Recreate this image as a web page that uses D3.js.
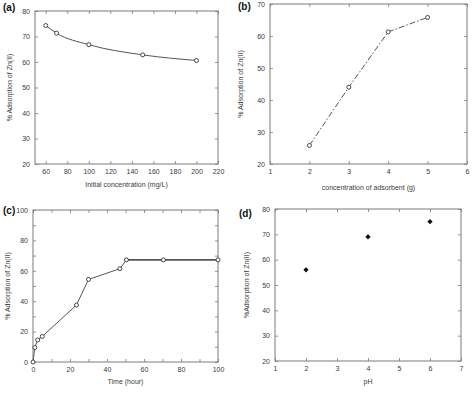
<!DOCTYPE html>
<html>
<head>
<meta charset="utf-8">
<script src="https://cdn.jsdelivr.net/npm/d3@7"></script>
<style>
  body { margin: 0; background: #fff; }
  svg { display: block; font-family: "Liberation Sans", Arial, sans-serif; }
</style>
</head>
<body>
<div id="chart"></div>
<script>
// --- Data ---
// (a) initial concentration
const concA = [60, 70, 100, 150, 200];
const adsA = [74.3, 71.3, 66.8, 62.8, 60.6];
// (b) adsorbent dose
const doseB = [2, 3, 4, 5];
const adsB = [25.8, 44, 61.3, 65.8];
// (c) contact time
const timeC = [0, 1, 2.5, 5, 23.5, 30, 47, 50.5, 70.5, 100];
const adsC = [0, 9.5, 14.5, 16.8, 37.5, 54.3, 61.4, 67.2, 67.2, 67.2];
// (d) pH
const phD = [2, 4, 6];
const adsD = [56, 69, 75];

const W = 474, H = 399;
const svg = d3.select("#chart").append("svg").attr("width", W).attr("height", H);

const frameColor = "#7a7a7a";
const textColor = "#3a3a3a";
const lineColor = "#555";

// --- Generic panel builder ---
function panel(cfg) {
  const x = d3.scaleLinear().domain(cfg.xDomain).range([cfg.left, cfg.right]);
  const y = d3.scaleLinear().domain(cfg.yDomain).range([cfg.bottom, cfg.top]);
  const g = svg.append("g");
  const fmt = d3.format("d");

  // inward ticks on all four sides
  const axes = [
    { ax: d3.axisBottom(x).tickValues(cfg.xTicks), t: `translate(0,${cfg.bottom})`, labels: true },
    { ax: d3.axisTop(x).tickValues(cfg.xTicks), t: `translate(0,${cfg.top})`, labels: false },
    { ax: d3.axisLeft(y).tickValues(cfg.yTicks), t: `translate(${cfg.left},0)`, labels: true },
    { ax: d3.axisRight(y).tickValues(cfg.yTicks), t: `translate(${cfg.right},0)`, labels: false }
  ];
  if (cfg.xMinor) {
    axes.push({ ax: d3.axisBottom(x).tickValues(cfg.xMinor), t: `translate(0,${cfg.bottom})`, labels: false });
    axes.push({ ax: d3.axisTop(x).tickValues(cfg.xMinor), t: `translate(0,${cfg.top})`, labels: false });
  }
  if (cfg.yMinor) {
    axes.push({ ax: d3.axisLeft(y).tickValues(cfg.yMinor), t: `translate(${cfg.left},0)`, labels: false });
    axes.push({ ax: d3.axisRight(y).tickValues(cfg.yMinor), t: `translate(${cfg.right},0)`, labels: false });
  }
  axes.forEach(a => {
    const ag = g.append("g").attr("transform", a.t)
      .call(a.ax.tickSizeInner(-3).tickSizeOuter(0).tickPadding(5).tickFormat(fmt));
    ag.select(".domain").remove();
    ag.selectAll(".tick line").attr("stroke", frameColor).attr("stroke-width", 0.8);
    if (a.labels) {
      ag.selectAll("text").attr("fill", textColor).attr("font-size", "7px")
        .style("font-family", "Liberation Sans, Arial, sans-serif");
    } else {
      ag.selectAll("text").remove();
    }
  });

  // frame
  g.append("rect")
    .attr("x", cfg.left).attr("y", cfg.top)
    .attr("width", cfg.right - cfg.left).attr("height", cfg.bottom - cfg.top)
    .attr("fill", "none").attr("stroke", frameColor).attr("stroke-width", 1);

  // axis titles
  g.append("text")
    .attr("x", (cfg.left + cfg.right) / 2).attr("y", cfg.xTitleY)
    .attr("text-anchor", "middle").attr("font-size", "7px").attr("fill", textColor)
    .text(cfg.xTitle);
  g.append("text")
    .attr("transform", `translate(${cfg.yTitleX},${(cfg.top + cfg.bottom) / 2}) rotate(-90)`)
    .attr("text-anchor", "middle").attr("font-size", "7px").attr("fill", textColor)
    .text(cfg.yTitle);

  // panel letter
  g.append("text")
    .attr("x", cfg.tagX).attr("y", cfg.tagY)
    .attr("font-size", "10px").attr("font-weight", "bold").attr("fill", "#111")
    .text(cfg.tag);

  return { g, x, y };
}

// --- (a) ---
const pa = panel({
  left: 35, right: 218, top: 11, bottom: 164,
  xDomain: [50, 220], yDomain: [20, 80],
  xTicks: d3.range(60, 221, 20), yTicks: d3.range(20, 81, 10),
  xTitle: "Initial concentration (mg/L)", xTitleY: 187,
  yTitle: "% Adsorption of Zn(II)", yTitleX: 12,
  tag: "(a)", tagX: 3, tagY: 11
});
const ptsA = concA.map((c, i) => [c, adsA[i]]);
pa.g.append("path")
  .datum(ptsA)
  .attr("d", d3.line().x(d => pa.x(d[0])).y(d => pa.y(d[1])).curve(d3.curveMonotoneX))
  .attr("fill", "none").attr("stroke", lineColor).attr("stroke-width", 1);
pa.g.selectAll("circle").data(ptsA).join("circle")
  .attr("cx", d => pa.x(d[0])).attr("cy", d => pa.y(d[1])).attr("r", 2)
  .attr("fill", "#fff").attr("stroke", "#333").attr("stroke-width", 0.9);

// --- (b) ---
const pb = panel({
  left: 270, right: 467, top: 4, bottom: 164,
  xDomain: [1, 6], yDomain: [20, 70],
  xTicks: d3.range(1, 7), yTicks: d3.range(20, 71, 10),
  xTitle: "concentration of adsorbent (g)", xTitleY: 190,
  yTitle: "% Adsorption of Zn(II)", yTitleX: 243,
  tag: "(b)", tagX: 238, tagY: 10
});
const ptsB = doseB.map((c, i) => [c, adsB[i]]);
pb.g.append("path")
  .datum(ptsB)
  .attr("d", d3.line().x(d => pb.x(d[0])).y(d => pb.y(d[1])))
  .attr("fill", "none").attr("stroke", lineColor).attr("stroke-width", 1)
  .attr("stroke-dasharray", "6,2,1.5,2");
pb.g.selectAll("circle").data(ptsB).join("circle")
  .attr("cx", d => pb.x(d[0])).attr("cy", d => pb.y(d[1])).attr("r", 2)
  .attr("fill", "#fff").attr("stroke", "#333").attr("stroke-width", 0.9);

// --- (c) ---
const pc = panel({
  left: 33, right: 218, top: 210, bottom: 362,
  xDomain: [0, 100], yDomain: [0, 100],
  xTicks: d3.range(0, 101, 20), yTicks: d3.range(0, 101, 20),
  xMinor: d3.range(10, 100, 20), yMinor: d3.range(10, 100, 20),
  xTitle: "Time (hour)", xTitleY: 384,
  yTitle: "% Adsorption of Zn(II)", yTitleX: 10,
  tag: "(c)", tagX: 3, tagY: 214
});
const ptsC = timeC.map((c, i) => [c, adsC[i]]);
// segments after equilibrium (t >= 50) are drawn heavier, as in the original
pc.g.selectAll("line.seg").data(d3.pairs(ptsC)).join("line")
  .attr("class", "seg")
  .attr("x1", d => pc.x(d[0][0])).attr("y1", d => pc.y(d[0][1]))
  .attr("x2", d => pc.x(d[1][0])).attr("y2", d => pc.y(d[1][1]))
  .attr("stroke", lineColor)
  .attr("stroke-width", d => d[0][0] >= 50 ? 1.8 : 1);
pc.g.selectAll("circle").data(ptsC).join("circle")
  .attr("cx", d => pc.x(d[0])).attr("cy", d => pc.y(d[1])).attr("r", 2)
  .attr("fill", "#fff").attr("stroke", "#333").attr("stroke-width", 0.9);

// --- (d) ---
const pd = panel({
  left: 275, right: 461, top: 209, bottom: 361,
  xDomain: [1, 7], yDomain: [20, 80],
  xTicks: d3.range(1, 8), yTicks: d3.range(20, 81, 10),
  xTitle: "pH", xTitleY: 384,
  yTitle: "%Adsorption of Zn(II)", yTitleX: 249,
  tag: "(d)", tagX: 239, tagY: 217
});
const ptsD = phD.map((c, i) => [c, adsD[i]]);
// filled diamonds: squares turned 45 degrees
pd.g.selectAll("path.pt").data(ptsD).join("path")
  .attr("class", "pt")
  .attr("transform", d => `translate(${pd.x(d[0])},${pd.y(d[1])}) rotate(45)`)
  .attr("d", d3.symbol(d3.symbolSquare, 14))
  .attr("fill", "#111");
</script>
</body>
</html>
